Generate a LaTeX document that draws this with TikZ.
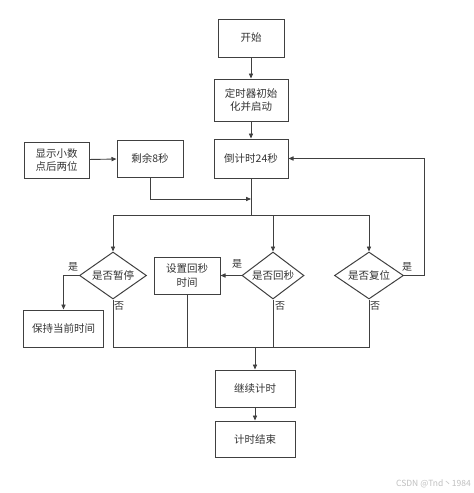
\documentclass[tikz,border=0pt]{standalone}
\usepackage{fontspec}
\setmainfont{Noto Sans CJK SC}
\usetikzlibrary{arrows.meta,shapes.geometric}
\definecolor{linegray}{HTML}{404040}
\definecolor{textgray}{HTML}{333333}
\tikzset{
  box/.style={draw=linegray, line width=1pt, align=center, text=textgray, inner sep=2pt,
    minimum height=37pt, font=\fontsize{10.5}{13.5}\selectfont},
  kstep/.style={box, minimum width=66pt},
  kwide/.style={box, minimum width=80pt},
  kcheck/.style={box, diamond, aspect=1.4, inner sep=0pt, minimum width=66pt, minimum height=47pt},
  flow/.style={draw=linegray, line width=0.9pt, -{Triangle[length=5pt,width=4.2pt]}},
  link/.style={draw=linegray, line width=0.9pt},
  lbl/.style={text=textgray, inner sep=0pt, font=\fontsize{10}{12}\selectfont},
}

\begin{document}
\begin{tikzpicture}[x=1pt, y=-1pt]
    \useasboundingbox (0,0) rectangle (474,493);
    \node[kstep, minimum height=38pt] (start) at (251,38) {开始};
    \node[box, minimum width=74pt, minimum height=42pt] (init) at (251,100) {定时器初始\\化并启动};
    \node[box, minimum width=74pt, minimum height=39pt] (count) at (251,158.5) {倒计时24秒};
    \node[box, minimum width=65pt, minimum height=36pt] (show) at (56.5,160) {显示小数\\点后两位};
    \node[kstep] (remain) at (150,158.5) {剩余8秒};
    \node[kcheck, minimum width=67pt] (pause) at (113,275.5) {是否暂停};
    \node[kcheck, minimum width=62pt] (back) at (273,275.5) {是否回秒};
    \node[kcheck, minimum width=69pt] (reset) at (369,275.5) {是否复位};
    \node[kstep] (setback) at (187,275.5) {设置回秒\\时间};
    \node[kwide] (keep) at (63.5,328.5) {保持当前时间};
    \node[kwide] (cont) at (255,388.5) {继续计时};
    \node[kwide, minimum height=36pt] (finish) at (255,439) {计时结束};
    \coordinate (join) at (251,199);
    \coordinate (split) at (251,215);
    \coordinate (merge) at (255,347);
    \coordinate (loop) at (424,158.5);
    % main line
    \draw[flow] (start) -- (init);
    \draw[flow] (init) -- (count);
    \draw[flow] (show) -- (remain);
    \draw[flow] (remain.south) |- (join);
    \draw[link] (count.south) -- (split);
    \draw[flow] (split) -| (pause.north);
    \draw[flow] (split) -| (back.north);
    \draw[flow] (split) -| (reset.north);
    % branches
    \draw[flow] (pause.west) -| (keep.north);
    \draw[flow] (back.west) -- (setback.east);
    \draw[flow] (reset.east) -| (loop) -- (count.east);
    \draw[link] (pause.south) |- (reset.south |- merge) -- (reset.south);
    \draw[link] (back.south) -- (back.south |- merge);
    \draw[link] (setback.south) -- (setback.south |- merge);
    \draw[flow] (merge) -- (cont);
    \draw[flow] (cont) -- (finish);
    \node[lbl] (yes1) at (73,267) {是};
    \node[lbl] (no1) at (119,306) {否};
    \node[lbl] (yes2) at (237,264) {是};
    \node[lbl] (no2) at (280,306) {否};
    \node[lbl] (yes3) at (407,267) {是};
    \node[lbl] (no3) at (375,306) {否};
    \node[text=gray!50, inner sep=0pt, anchor=east, font=\fontsize{8.5}{10}\selectfont] (wm) at (471,484) {CSDN @Tnd丶1984};
  \end{tikzpicture}
\end{document}
